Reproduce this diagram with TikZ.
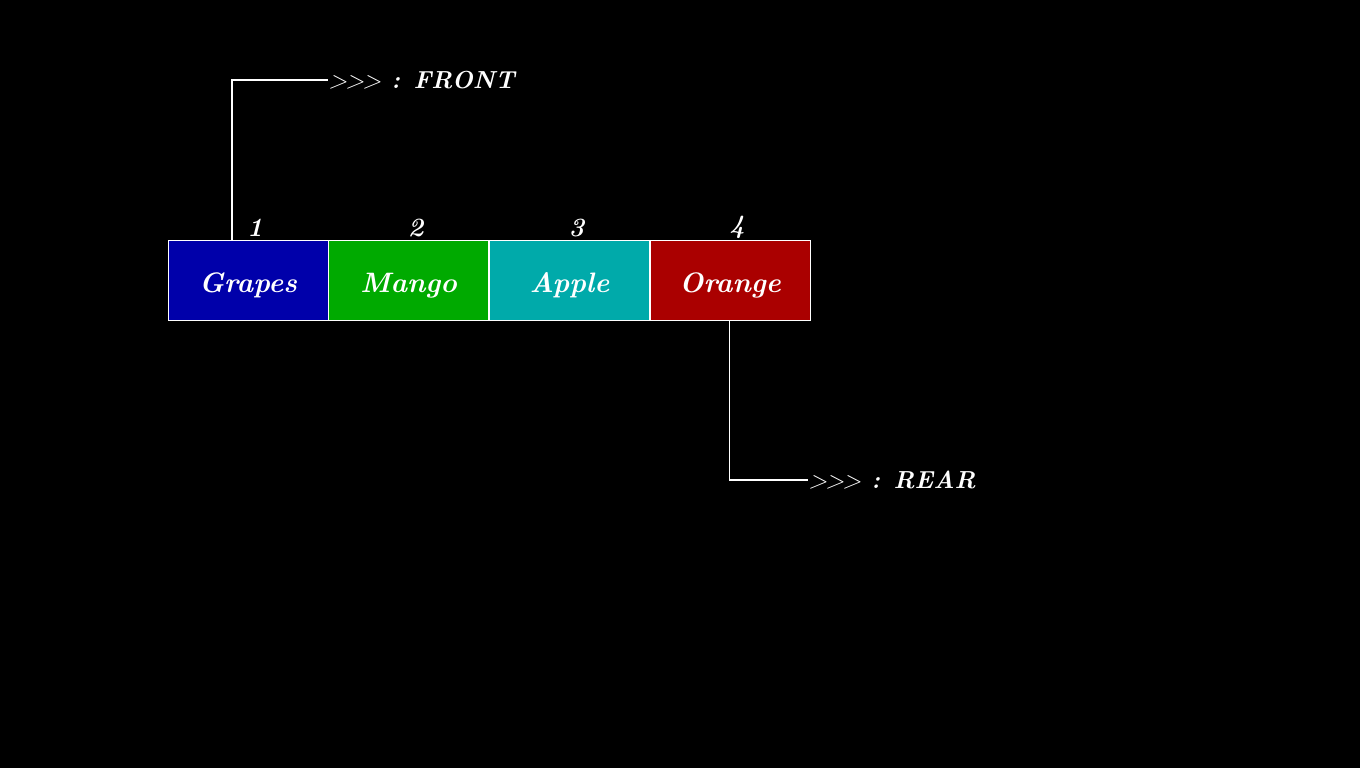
\documentclass[tikz,border=0pt]{standalone}
\usepackage{tikz}
\usetikzlibrary{positioning}
\definecolor{qblue}{RGB}{0,0,170}
\definecolor{qgreen}{RGB}{0,170,0}
\definecolor{qcyan}{RGB}{0,170,170}
\definecolor{qred}{RGB}{170,0,0}
\tikzset{
	cell/.style = {
		draw=white,
		fill=#1,
		minimum width=3.2cm,
		minimum height=1.6cm,
		text=white,
		font=\fontsize{16}{18}\selectfont\bfseries\itshape,
		text height=0.55cm,
		text depth=0.05cm,
		inner sep=0pt
	},
	idx/.style = {
		text=white,
		font=\fontsize{15}{17}\selectfont\bfseries\itshape,
		inner sep=0pt
	},
	tag/.style = {
		text=white,
		font=\fontsize{14}{16}\selectfont\bfseries\itshape,
		anchor=west,
		inner sep=0pt
	}
}
\newcommand{\ptr}{{\mdseries{>}\kern-1pt{>}\kern-1pt{>}}}

\begin{document}
\begin{tikzpicture}[node distance=0cm and 0cm]
	\fill[black] (0,0) rectangle (27.2,15.36);
	\useasboundingbox (0,0) rectangle (27.2,15.36);
	
	% Queue cells
	\node[cell=qblue] (C1) at (4.96,9.76) {Grapes};
	\node[cell=qgreen, right=of C1] (C2) {Mango};
	\node[cell=qcyan, right=of C2] (C3) {Apple};
	\node[cell=qred, right=of C3] (C4) {Orange};
	
	% Indices
	\node[idx] (I1) at ([xshift=0.14cm, yshift=0.24cm]C1.north) {1};
	\node[idx] (I2) at ([xshift=0.14cm, yshift=0.24cm]C2.north) {2};
	\node[idx] (I3) at ([xshift=0.14cm, yshift=0.24cm]C3.north) {3};
	\node[idx] (I4) at ([xshift=0.14cm, yshift=0.24cm]C4.north) {4};
	
	% Front pointer
	\coordinate (F0) at ([xshift=-0.32cm]C1.north);
	\node[tag] (F) at (6.56,13.76) {\ptr{} : FRONT};
	\draw[white, semithick] (F0) |- (F.west);
	
	% Rear pointer
	\coordinate (R0) at ([xshift=-0.02cm]C4.south);
	\node[tag] (R) at (16.16,5.76) {\ptr{} : REAR};
	\draw[white, semithick] (R0) |- (R.west);
\end{tikzpicture}
\end{document}
